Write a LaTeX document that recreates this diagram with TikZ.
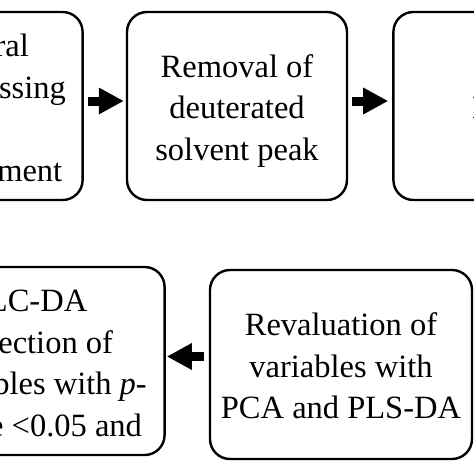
\documentclass[tikz,border=0pt]{standalone}
\usepackage{fontspec}
\setmainfont{Liberation Serif}
\usetikzlibrary{positioning,arrows.meta}

% set the lines of a box a little lower than TikZ would
\newcommand{\lowlines}[1]{%
  \raisebox{-4.5pt}[\height][\depth]{\begin{tabular}{@{}c@{}}#1\end{tabular}}}

\begin{document}
\begin{tikzpicture}[
  x=1pt, y=1pt,
  font=\fontsize{32.5}{41.5}\selectfont,
  stage/.style={draw, line width=2.4pt, rounded corners=20pt, align=center,
                minimum width=220pt, minimum height=188pt, inner sep=0pt},
  widestage/.style={stage, minimum width=262pt},
  flow/.style={line width=9pt, -{Triangle[length=25pt,width=25pt]}}
]
\useasboundingbox (0,0) rectangle (474,-474);

% top row
\node[stage] (removal) at (237,-106) {\lowlines{Removal of\\deuterated\\solvent peak}};
\node[stage, minimum width=214pt, left=42pt of removal] (prep)
  {\lowlines{Spectral\\preprocessing\\and\\measurement}};
\node[widestage, right=44pt of removal] (binning) {\lowlines{Binning}};

% bottom row
\node[widestage, minimum height=189pt] (reval) at (341,-364.5)
  {\lowlines{Revaluation of\\variables with\\PCA and PLS-DA}};
\node[widestage, minimum width=254pt, left=43pt of reval, yshift=3.5pt] (select)
  {\lowlines{LC-DA\\selection of\\variables with \textit{p}-\\value <0.05 and}};

\draw[flow, shorten <=4pt, shorten >=2pt]
  ([yshift=5pt]prep.east) -- ([yshift=5pt]removal.west);
\draw[flow, shorten <=4pt, shorten >=4pt]
  ([yshift=5pt]removal.east) -- ([yshift=5pt]binning.west);
\draw[flow, shorten <=5pt, shorten >=1pt]
  ([yshift=8pt]reval.west) -- ([yshift=4.5pt]select.east);
\end{tikzpicture}
\end{document}
